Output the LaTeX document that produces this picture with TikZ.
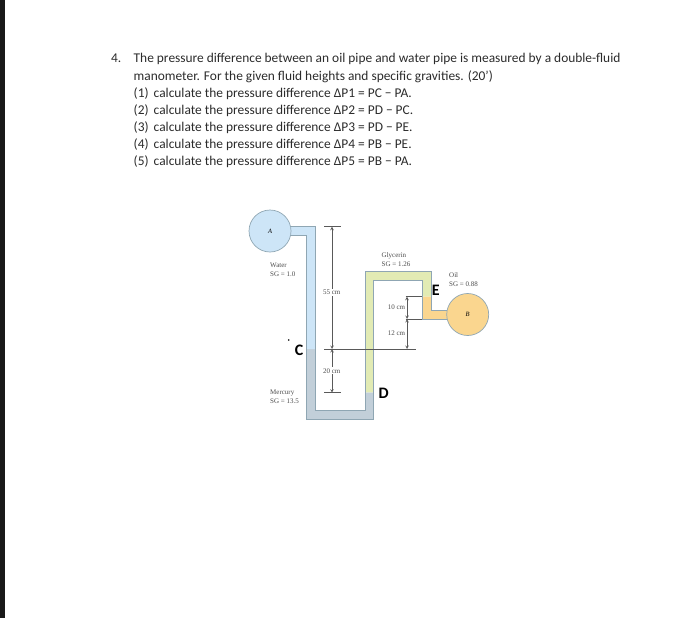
\documentclass[tikz,border=0pt]{standalone}
\usepackage{fontspec}
\setmainfont{Carlito}
\newfontfamily\figfont{Liberation Serif}
\usepackage{xcolor}
\usetikzlibrary{positioning}
\definecolor{watercol}{HTML}{CDE5F7}
\definecolor{mercurycol}{HTML}{C2CFD9}
\definecolor{glycerincol}{HTML}{E2EBB4}
\definecolor{oilcol}{HTML}{FAD68F}
\definecolor{pipecol}{HTML}{8FA6B3}
\definecolor{inkcol}{HTML}{2B2B2B}

\begin{document}
\begin{tikzpicture}[
x=1pt, y=-1pt,
line/.style={anchor=base west, inner sep=0pt, font=\fontsize{13.4}{15}\selectfont, text=inkcol},
tag/.style={anchor=north west, inner sep=0pt, align=left, font=\figfont\fontsize{7}{9.3}\selectfont, text=black!70},
dimtext/.style={inner sep=1pt, fill=white, font=\figfont\fontsize{7}{8}\selectfont, text=black!70},
point/.style={inner sep=0pt, font=\bfseries\fontsize{16}{16}\selectfont, text=black},
bulb/.style={circle, draw=pipecol, line width=0.7pt, minimum size=42pt, inner sep=0pt, font=\figfont\itshape\fontsize{6.5}{7}\selectfont},
fluid/.style={draw=pipecol, line width=0.8pt},
dim/.style={black!65, line width=0.6pt},
arr/.style={black!65, line width=0.6pt, <->, >=stealth}
]
\useasboundingbox (0,0) rectangle (700,618);
\fill[black!90] (0,0) rectangle (4.5,618);

% question text
\node[line](q_num) at (111,62.5){4.};
\node[line](q_a) at (133.5,62.5){The pressure difference between an oil pipe and water pipe is measured by a double-fluid};
\node[line](q_b) at (133.5,80){manometer. For the given fluid heights and specific gravities. (20’)};
\node[line](n_1) at (133.5,97){(1)};
\node[line](q_1) at (153.5,97){calculate the pressure difference ΔP1 = PC − PA.};
\node[line](n_2) at (133.5,114.5){(2)};
\node[line](q_2) at (153.5,114.5){calculate the pressure difference ΔP2 = PD − PC.};
\node[line](n_3) at (133.5,131.5){(3)};
\node[line](q_3) at (153.5,131.5){calculate the pressure difference ΔP3 = PD − PE.};
\node[line](n_4) at (133.5,148.5){(4)};
\node[line](q_4) at (153.5,148.5){calculate the pressure difference ΔP4 = PB − PE.};
\node[line](n_5) at (133.5,165.5){(5)};
\node[line](q_5) at (153.5,165.5){calculate the pressure difference ΔP5 = PB − PA.};

% fluids
\fill[fill=mercurycol] (306.7,349) -- (315.3,349) -- (315.3,410) -- (365,410) -- (365,392.3) -- (373.7,392.3) -- (373.7,419) -- (306.7,419) -- cycle;
\fill[fill=watercol] (288,226.7) -- (315.3,226.7) -- (315.3,349) -- (306.7,349) -- (306.7,235.7) -- (288,235.7) -- cycle;
\fill[fill=glycerincol] (365,392.3) -- (365,271) -- (431.3,271) -- (431.3,296.7) -- (422.3,296.7) -- (422.3,280.3) -- (373.7,280.3) -- (373.7,392.3) -- cycle;
\fill[fill=oilcol] (422.3,296.7) -- (431.3,296.7) -- (431.3,310) -- (450,310) -- (450,319) -- (422.3,319) -- cycle;

% pipe walls
\draw[fluid] (288,226.7) -- (315.3,226.7) -- (315.3,410) -- (365,410) -- (365,271) -- (431.3,271) -- (431.3,310) -- (450,310);
\draw[fluid] (288,235.7) -- (306.7,235.7) -- (306.7,419) -- (373.7,419) -- (373.7,280.3) -- (422.3,280.3) -- (422.3,319) -- (450,319);

\node[bulb, fill=watercol](a) at (270,231){A};
\node[bulb, fill=oilcol](b) at (467.7,314.5){B};

% levels
\coordinate(top_l) at (324.3,226.7);
\coordinate(top_r) at (340.7,226.7);
\coordinate(top_m) at (332,226.7);
\coordinate(mid_l) at (324.3,349);
\coordinate(mid_r) at (415.7,349);
\coordinate(mid_m) at (332,349);
\coordinate(mid_n) at (407,349);
\coordinate(low_l) at (324.3,392.7);
\coordinate(low_r) at (340.7,392.7);
\coordinate(low_m) at (332,392.7);
\coordinate(e_l) at (405.5,296.7);
\coordinate(e_r) at (422.3,296.7);
\coordinate(e_m) at (407,296.7);
\coordinate(f_l) at (405.5,319);
\coordinate(f_r) at (422.3,319);
\coordinate(f_m) at (407,319);

\draw[dim] (top_l) -- (top_r);
\draw[dim] (mid_l) -- (mid_r);
\draw[dim] (low_l) -- (low_r);
\draw[dim] (e_l) -- (e_r);
\draw[dim] (f_l) -- (f_r);

\draw[arr] (top_m) -- (mid_m);
\draw[arr] (mid_m) -- (low_m);
\draw[arr] (e_m) -- (f_m);
\draw[arr] (f_m) -- (mid_n);

\node[dimtext](t_55) at (331.7,292.5){55 cm};
\node[dimtext](t_20) at (331.7,370.7){20 cm};
\node[dimtext, anchor=east](t_10) at (406.3,307.3){10 cm};
\node[dimtext, anchor=east](t_12) at (406.3,333.7){12 cm};

% labels
\node[tag](water) at (270,262.5){Water\\SG = 1.0};
\node[tag](glycerin) at (381.5,252.5){Glycerin\\SG = 1.26};
\node[tag](oil) at (449,272){Oil\\SG = 0.88};
\node[tag](mercury) at (270,389.5){Mercury\\SG = 13.5};

\node[point](c) at (299,350){C};
\node[point](d) at (383.7,393.5){D};
\node[point](e) at (435.7,290.5){E};
\fill[black] (288.7,340) circle (0.9);

\end{tikzpicture}
\end{document}
